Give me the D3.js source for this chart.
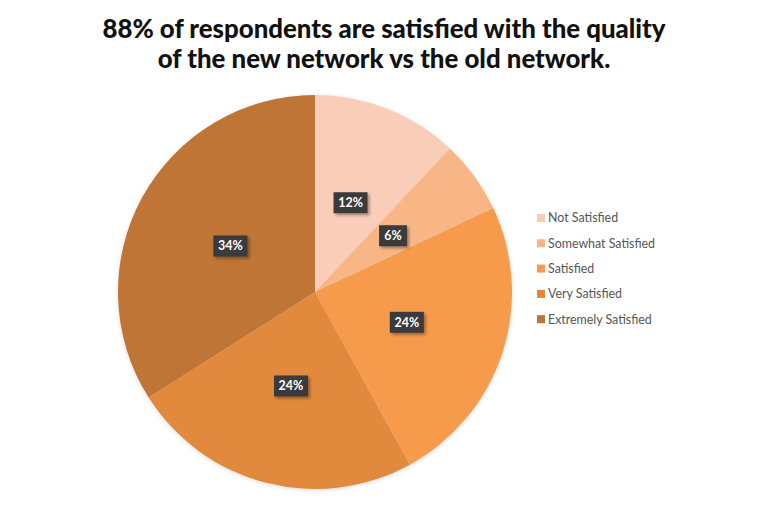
<!DOCTYPE html>
<html>
<head>
<meta charset="utf-8">
<script src="https://cdn.jsdelivr.net/npm/d3@7"></script>
<style>
html,body{margin:0;padding:0;background:#fff;}
svg{display:block;}
</style>
</head>
<body>
<svg id="chart" width="768" height="524"></svg>
<script>
const categories = ["Not Satisfied","Somewhat Satisfied","Satisfied","Very Satisfied","Extremely Satisfied"];
const values = [12, 6, 24, 24, 34];
const labels = ["12%","6%","24%","24%","34%"];
const colors = ["#FACDB8","#F8B687","#F69A4B","#E18A3C","#BE7436"];
const titleLines = ["88% of respondents are satisfied with the quality","of the new network vs the old network."];

const svg = d3.select("#chart");
const cx = 315, cy = 292, R = 197;

const defs = svg.append("defs");
const f = defs.append("filter").attr("id","sh").attr("x","-30%").attr("y","-30%").attr("width","170%").attr("height","170%");
f.append("feDropShadow").attr("dx",2).attr("dy",2).attr("stdDeviation",1.5).attr("flood-color","#000").attr("flood-opacity",0.35);
const f2 = defs.append("filter").attr("id","psh").attr("x","-10%").attr("y","-10%").attr("width","120%").attr("height","120%");
f2.append("feDropShadow").attr("dx",0).attr("dy",1).attr("stdDeviation",2).attr("flood-color","#000").attr("flood-opacity",0.15);

// Title
const title = svg.append("g");
titleLines.forEach((t,i)=>{
  title.append("text")
    .attr("x",384).attr("y",38 + i*30)
    .attr("text-anchor","middle")
    .attr("font-family","Lato, 'Open Sans', sans-serif")
    .attr("font-weight","900")
    .attr("font-size",25.8)
    .attr("fill","#111")
    .text(t);
});

const color = d3.scaleOrdinal().domain(categories).range(colors);
const pie = d3.pie().sort(null).value(d=>d.v);
const data = categories.map((c,i)=>({c, v: values[i], l: labels[i]}));
const arcs = pie(data);
const arc = d3.arc().innerRadius(0).outerRadius(R);
const labelArc = d3.arc().innerRadius(R*0.49).outerRadius(R*0.49);

const g = svg.append("g").attr("transform",`translate(${cx},${cy})`);
g.append("g").attr("filter","url(#psh)")
 .selectAll("path").data(arcs).join("path")
 .attr("d",arc).attr("fill",d=>color(d.data.c));

const lg = g.selectAll("g.lbl").data(arcs).join("g").attr("class","lbl")
  .attr("transform",d=>`translate(${labelArc.centroid(d)})`);
lg.each(function(d){
  const s = d3.select(this);
  const w = d.data.l.length > 2 ? 34 : 28;
  s.append("rect").attr("x",-w/2).attr("y",-10).attr("width",w).attr("height",21)
    .attr("fill","#3a3a3a").attr("filter","url(#sh)");
  s.append("text").attr("text-anchor","middle").attr("dy","0.36em").attr("y",0.5)
    .attr("font-family","Lato, 'Open Sans', sans-serif").attr("font-weight","700")
    .attr("font-size",12.5).attr("fill","#fff").text(d.data.l);
});

// Legend
const leg = svg.append("g").attr("transform","translate(537,218)");
const li = leg.selectAll("g").data(categories).join("g")
  .attr("transform",(d,i)=>`translate(0,${i*25.3})`);
li.append("rect").attr("x",0).attr("y",-4).attr("width",8).attr("height",8).attr("fill",d=>color(d));
li.append("text").attr("x",11).attr("dy","0.35em")
  .attr("font-family","Lato, 'Open Sans', sans-serif").attr("font-size",12.4)
  .attr("fill","#555").text(d=>d);
</script>
</body>
</html>
